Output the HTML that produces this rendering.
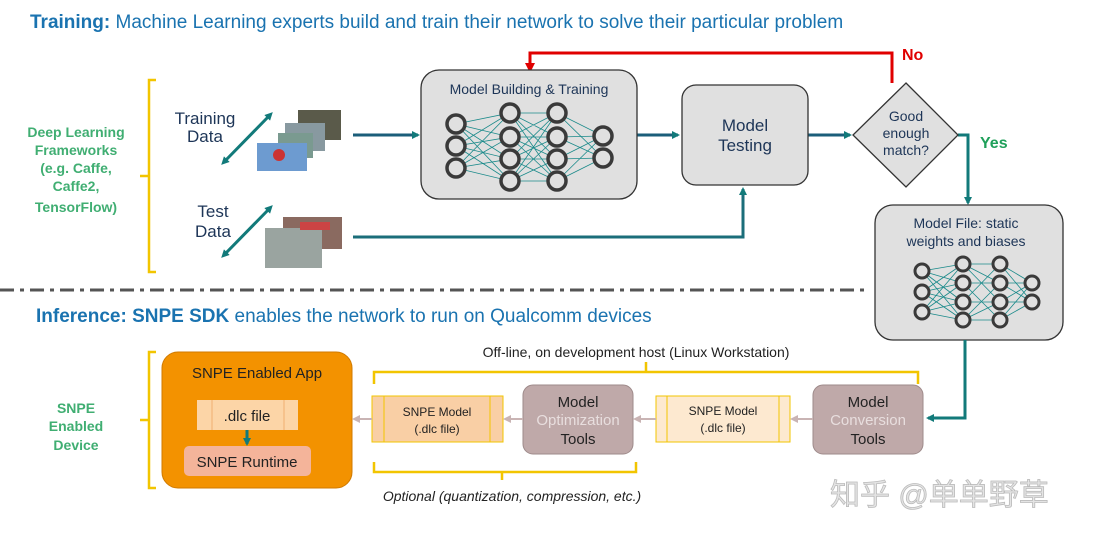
<!DOCTYPE html>
<html><head><meta charset="utf-8"><style>
body{margin:0;background:#fff}
svg{display:block;font-family:"Liberation Sans",Arial,sans-serif}
</style></head><body>
<svg width="1095" height="541" viewBox="0 0 1095 541" xmlns="http://www.w3.org/2000/svg">
<defs>
<marker id="at" markerWidth="8" markerHeight="8" refX="6" refY="4" orient="auto" markerUnits="userSpaceOnUse"><path d="M0,0 L8,4 L0,8 z" fill="#127a7a"/></marker>
<marker id="ar" markerWidth="10" markerHeight="10" refX="5" refY="5" orient="auto" markerUnits="userSpaceOnUse"><path d="M0,0 L10,5 L0,10 z" fill="#e00000"/></marker>
<marker id="ag" markerWidth="8" markerHeight="8" refX="6" refY="4" orient="auto" markerUnits="userSpaceOnUse"><path d="M0,0 L8,4 L0,8 z" fill="#c9b4b4"/></marker>
<marker id="atb" markerWidth="8" markerHeight="8" refX="4" refY="4" orient="auto-start-reverse" markerUnits="userSpaceOnUse"><path d="M0,0 L8,4 L0,8 z" fill="#127a7a"/></marker>
</defs>

<text x="30" y="28" font-family="Liberation Sans" font-size="19" fill="#1a73b0"><tspan font-weight="bold">Training:</tspan> Machine Learning experts build and train their network to solve their particular problem</text>
<text x="36" y="322" font-size="19" fill="#1a73b0"><tspan font-weight="bold">Inference: SNPE SDK</tspan> enables the network to run on Qualcomm devices</text>

<!-- left text -->
<g fill="#1fa05a" font-size="14" text-anchor="middle" font-weight="bold" opacity="0.85">
<text x="76" y="137">Deep Learning</text><text x="76" y="155">Frameworks</text><text x="76" y="173">(e.g. Caffe,</text><text x="76" y="191">Caffe2,</text><text x="76" y="212">TensorFlow)</text>
<text x="76" y="413">SNPE</text><text x="76" y="431">Enabled</text><text x="76" y="450">Device</text>
</g>
<g fill="none" stroke="#f2c500" stroke-width="2.5">
<path d="M156,80 H149 V272 H156 M149,176 H140"/>
<path d="M156,352 H149 V488 H156 M149,420 H140"/>
<path d="M374,384 V372 H918 V384 M646,372 V362"/>
<path d="M374,462 V472 H636 V462 M502,472 V480"/>
</g>

<g fill="#1d3557" font-size="17" text-anchor="middle">
<text x="205" y="124">Training</text><text x="205" y="142">Data</text>
<text x="213" y="217">Test</text><text x="213" y="237">Data</text>
</g>
<line x1="224" y1="162" x2="270" y2="115" stroke="#127a7a" stroke-width="3" marker-start="url(#atb)" marker-end="url(#atb)"/>
<line x1="224" y1="255" x2="270" y2="208" stroke="#127a7a" stroke-width="3" marker-start="url(#atb)" marker-end="url(#atb)"/>
<!-- images -->
<rect x="298" y="110" width="43" height="30" fill="#5a5a4a"/>
<rect x="285" y="123" width="40" height="28" fill="#8899a0"/>
<rect x="278" y="133" width="35" height="25" fill="#7a9a90"/>
<rect x="257" y="143" width="50" height="28" fill="#6d9bd0"/>
<circle cx="279" cy="155" r="6" fill="#c33"/>
<rect x="283" y="217" width="59" height="32" fill="#8a6a60"/>
<rect x="265" y="228" width="57" height="40" fill="#9aa4a0"/>
<rect x="300" y="222" width="30" height="8" fill="#c44"/>

<!-- connectors -->
<line x1="353" y1="135" x2="418" y2="135" stroke="#1b5e7a" stroke-width="3" marker-end="url(#at)"/>
<path d="M353,237 H743 V189" fill="none" stroke="#1b6e7a" stroke-width="3" marker-end="url(#at)"/>
<line x1="637" y1="135" x2="678" y2="135" stroke="#1b5e7a" stroke-width="3" marker-end="url(#at)"/>
<line x1="808" y1="135" x2="850" y2="135" stroke="#1b5e7a" stroke-width="3" marker-end="url(#at)"/>
<path d="M892,83 V53 H530 V68" fill="none" stroke="#e00000" stroke-width="3" marker-end="url(#ar)"/>
<text x="902" y="60" fill="#e00000" font-size="16" font-weight="bold">No</text>
<path d="M958,135 H968 V203" fill="none" stroke="#127a7a" stroke-width="3" marker-end="url(#at)"/>
<text x="980" y="148" fill="#1fa05a" font-size="16" font-weight="bold">Yes</text>

<!-- boxes -->
<rect x="421" y="70" width="216" height="129" rx="18" fill="#e0e0e0" stroke="#333" stroke-width="1.3"/>
<text x="529" y="94" text-anchor="middle" font-size="14" fill="#1d3557">Model Building  &amp; Training</text>
<rect x="682" y="85" width="126" height="100" rx="14" fill="#e0e0e0" stroke="#333" stroke-width="1.3"/>
<text x="745" y="131" text-anchor="middle" font-size="17" fill="#1d3557">Model</text>
<text x="745" y="151" text-anchor="middle" font-size="17" fill="#1d3557">Testing</text>
<path d="M906,83 L958,135 L906,187 L853,135 Z" fill="#e0e0e0" stroke="#333" stroke-width="1.3"/>
<g font-size="14" text-anchor="middle" fill="#1d3557"><text x="906" y="121">Good</text><text x="906" y="138">enough</text><text x="906" y="155">match?</text></g>
<rect x="875" y="205" width="188" height="135" rx="18" fill="#e0e0e0" stroke="#333" stroke-width="1.3"/>
<g font-size="14" text-anchor="middle" fill="#1d3557"><text x="966" y="228">Model File: static</text><text x="966" y="246">weights and biases</text></g>

<!-- nets -->
<g stroke="#1a8a8a" stroke-width="0.8">
<path d="M456,124 L510,113 M456,124 L510,137 M456,124 L510,159 M456,124 L510,181 M456,146 L510,113 M456,146 L510,137 M456,146 L510,159 M456,146 L510,181 M456,168 L510,113 M456,168 L510,137 M456,168 L510,159 M456,168 L510,181"/>
<path d="M510,113 L557,113 M510,113 L557,137 M510,113 L557,159 M510,113 L557,181 M510,137 L557,113 M510,137 L557,137 M510,137 L557,159 M510,137 L557,181 M510,159 L557,113 M510,159 L557,137 M510,159 L557,159 M510,159 L557,181 M510,181 L557,113 M510,181 L557,137 M510,181 L557,159 M510,181 L557,181"/>
<path d="M557,113 L603,136 M557,113 L603,158 M557,137 L603,136 M557,137 L603,158 M557,159 L603,136 M557,159 L603,158 M557,181 L603,136 M557,181 L603,158"/>
<path d="M922,271 L963,264 M922,271 L963,283 M922,271 L963,302 M922,271 L963,320 M922,292 L963,264 M922,292 L963,283 M922,292 L963,302 M922,292 L963,320 M922,312 L963,264 M922,312 L963,283 M922,312 L963,302 M922,312 L963,320"/>
<path d="M963,264 L1000,264 M963,264 L1000,302 M963,283 L1000,283 M963,283 L1000,320 M963,302 L1000,264 M963,302 L1000,302 M963,320 L1000,283 M963,320 L1000,320 M963,264 L1000,283 M963,320 L1000,302"/>
<path d="M1000,264 L1032,283 M1000,264 L1032,302 M1000,283 L1032,283 M1000,283 L1032,302 M1000,302 L1032,283 M1000,302 L1032,302 M1000,320 L1032,283 M1000,320 L1032,302"/>
</g>
<g fill="#e0e0e0" stroke="#3a3a3a" stroke-width="3.5">
<circle cx="456" cy="124" r="9"/><circle cx="456" cy="146" r="9"/><circle cx="456" cy="168" r="9"/>
<circle cx="510" cy="113" r="9"/><circle cx="510" cy="137" r="9"/><circle cx="510" cy="159" r="9"/><circle cx="510" cy="181" r="9"/>
<circle cx="557" cy="113" r="9"/><circle cx="557" cy="137" r="9"/><circle cx="557" cy="159" r="9"/><circle cx="557" cy="181" r="9"/>
<circle cx="603" cy="136" r="9"/><circle cx="603" cy="158" r="9"/>
</g>
<g fill="#e0e0e0" stroke="#3a3a3a" stroke-width="3">
<circle cx="922" cy="271" r="7"/><circle cx="922" cy="292" r="7"/><circle cx="922" cy="312" r="7"/>
<circle cx="963" cy="264" r="7"/><circle cx="963" cy="283" r="7"/><circle cx="963" cy="302" r="7"/><circle cx="963" cy="320" r="7"/>
<circle cx="1000" cy="264" r="7"/><circle cx="1000" cy="283" r="7"/><circle cx="1000" cy="302" r="7"/><circle cx="1000" cy="320" r="7"/>
<circle cx="1032" cy="283" r="7"/><circle cx="1032" cy="302" r="7"/>
</g>

<!-- separator -->
<line x1="0" y1="290" x2="870" y2="290" stroke="#555" stroke-width="3" stroke-dasharray="14,6,4,6"/>

<!-- bottom -->
<text x="636" y="357" text-anchor="middle" font-size="14" fill="#222">Off-line, on development host (Linux Workstation)</text>
<text x="512" y="501" text-anchor="middle" font-size="14" font-style="italic" fill="#222">Optional (quantization, compression, etc.)</text>
<path d="M965,340 V418 H928" fill="none" stroke="#127a7a" stroke-width="3" marker-end="url(#at)"/>

<rect x="162" y="352" width="190" height="136" rx="16" fill="#f39200" stroke="#d07a00"/>
<text x="257" y="378" text-anchor="middle" font-size="15" fill="#222">SNPE Enabled App</text>
<rect x="197" y="400" width="101" height="30" fill="#fcd5a7"/>
<line x1="212" y1="400" x2="212" y2="430" stroke="#f0b070"/><line x1="284" y1="400" x2="284" y2="430" stroke="#f0b070"/>
<text x="247" y="421" text-anchor="middle" font-size="15" fill="#222">.dlc file</text>
<line x1="247" y1="430" x2="247" y2="444" stroke="#127a7a" stroke-width="3" marker-end="url(#at)"/>
<rect x="184" y="446" width="127" height="30" rx="5" fill="#f4b49a"/>
<text x="247" y="467" text-anchor="middle" font-size="15" fill="#222">SNPE Runtime</text>

<rect x="372" y="396" width="131" height="46" fill="#f9cfa5" stroke="#f2c500"/>
<line x1="384" y1="396" x2="384" y2="442" stroke="#f2c500"/><line x1="490" y1="396" x2="490" y2="442" stroke="#f2c500"/>
<text x="437" y="416" text-anchor="middle" font-size="12" fill="#222">SNPE Model</text><text x="437" y="433" text-anchor="middle" font-size="12" fill="#222">(.dlc file)</text>
<rect x="656" y="396" width="134" height="46" fill="#fde9d0" stroke="#f2c500"/>
<line x1="667" y1="396" x2="667" y2="442" stroke="#f2c500"/><line x1="779" y1="396" x2="779" y2="442" stroke="#f2c500"/>
<text x="723" y="415" text-anchor="middle" font-size="12" fill="#222">SNPE Model</text><text x="723" y="432" text-anchor="middle" font-size="12" fill="#222">(.dlc file)</text>

<rect x="523" y="385" width="110" height="69" rx="10" fill="#bfa9a9" stroke="#9e8a8a"/>
<g text-anchor="middle" font-size="15"><text x="578" y="407" fill="#222">Model</text><text x="578" y="425" fill="#e8dede">Optimization</text><text x="578" y="444" fill="#222">Tools</text></g>
<rect x="813" y="385" width="110" height="69" rx="10" fill="#bfa9a9" stroke="#9e8a8a"/>
<g text-anchor="middle" font-size="15"><text x="868" y="407" fill="#222">Model</text><text x="868" y="425" fill="#e8dede">Conversion</text><text x="868" y="444" fill="#222">Tools</text></g>

<g stroke="#c9b4b4" stroke-width="2">
<line x1="813" y1="419" x2="792" y2="419" marker-end="url(#ag)"/>
<line x1="656" y1="419" x2="635" y2="419" marker-end="url(#ag)"/>
<line x1="523" y1="419" x2="505" y2="419" marker-end="url(#ag)"/>
<line x1="372" y1="419" x2="354" y2="419" marker-end="url(#ag)"/>
</g>

<text x="830" y="505" font-family="'Liberation Sans','Noto Sans CJK SC',sans-serif" font-size="30" fill="#e4e4e4" stroke="#bbb" stroke-width="0.8">知乎 @单单野草</text>
</svg>
</body></html>
